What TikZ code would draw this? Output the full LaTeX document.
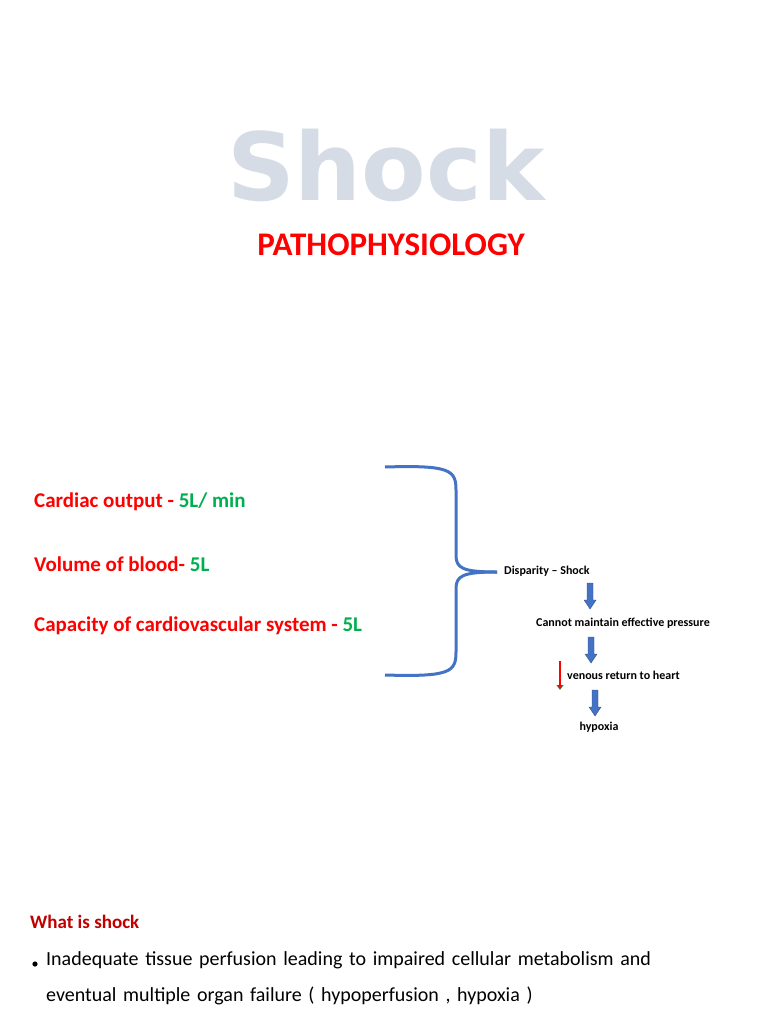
\documentclass[tikz,border=0pt]{standalone}
\usepackage{fontspec}
\setmainfont{Carlito}
\newfontfamily\titlefont{DejaVu Sans}
\usetikzlibrary{arrows.meta}
\definecolor{tred}{RGB}{255,0,0}
\definecolor{tgreen}{RGB}{0,176,80}
\definecolor{dred}{RGB}{192,0,0}
\definecolor{bblue}{RGB}{68,114,196}
\definecolor{tgrey}{RGB}{214,220,229}
\tikzset{
 lbl/.style={anchor=west,font=\fontsize{21}{24}\selectfont\bfseries,text=tred,inner sep=0},
 flow/.style={font=\fontsize{12}{14}\selectfont\bfseries,inner sep=0},
 barrow/.style={draw=bblue!70!black,fill=bblue,line width=0.4pt},
}
\newcommand{\blockarrow}[2]{% top point, bottom point (given as x,y)
 \path[barrow] (#1) ++(-3,0) -- ++(6,0) -- ++(0,17) -- ++(3,0) -- ++(-6,9) -- ++(-6,-9) -- ++(3,0) -- cycle;}
\begin{document}
\begin{tikzpicture}[x=1pt,y=-1pt]
\useasboundingbox (0,0) rectangle (768,1024);
\fill[white] (0,0) rectangle (768,1024);
\node[font=\titlefont\bfseries\fontsize{94}{100}\selectfont,text=tgrey,inner sep=0] (title) at (386,165) {Shock};
\node[font=\fontsize{33}{36}\selectfont\bfseries,text=tred,inner sep=0] (sub) at (391,245) {PATHOPHYSIOLOGY};
\node[lbl] (co) at (34,502) {Cardiac output - \textcolor{tgreen}{5L/ min}};
\node[lbl] (vb) at (34,564) {Volume of blood- \textcolor{tgreen}{5L}};
\node[lbl] (cap) at (34,626) {Capacity of cardiovascular system - \textcolor{tgreen}{5L}};
\draw[bblue,line width=3pt,line join=round] (385,467) .. controls (450,465) and (456,470) .. (456,490) -- (456,555) .. controls (456,568) and (462,572) .. (497,572);
\draw[bblue,line width=3pt] (385,675) .. controls (450,677) and (456,672) .. (456,652) -- (456,589) .. controls (456,576) and (462,572) .. (497,572);
\node[flow,anchor=west] (d) at (504,571) {Disparity – Shock};
\node[flow] (c) at (623,623) {Cannot maintain effective pressure};
\node[flow,anchor=west] (v) at (567,675) {venous return to heart};
\node[flow] (h) at (599,727) {hypoxia};
\blockarrow{590,583}{}
\blockarrow{591,637}{}
\blockarrow{595,690}{}
\draw[tgreen,line width=2.4pt,-{Triangle[length=5pt,width=7pt]}] (560,661) -- (560,690);
\draw[tred,line width=1.4pt,-{Triangle[length=4pt,width=5pt]}] (560,661) -- (560,689);
\node[anchor=west,font=\fontsize{19}{22}\selectfont\bfseries,text=dred,inner sep=0] (q) at (30,922) {What is shock};
\node[anchor=north west,font=\fontsize{20}{36}\selectfont,align=left,inner sep=0,text width=700pt] (b) at (46,951) {Inadequate tissue perfusion leading to impaired cellular metabolism and\\eventual multiple organ failure ( hypoperfusion , hypoxia )};
\fill (35,964) circle (2.6);
\end{tikzpicture}
\end{document}
